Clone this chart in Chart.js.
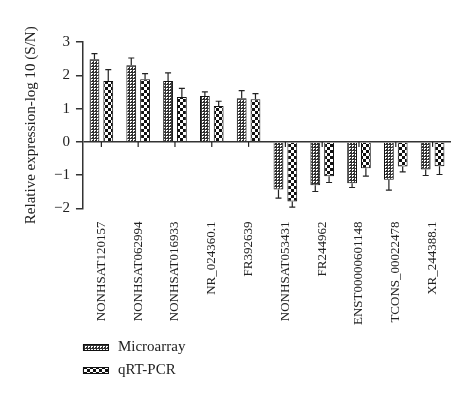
<!DOCTYPE html>
<html>
<head>
<meta charset="utf-8">
<script src="https://cdn.jsdelivr.net/npm/chart.js@4"></script>
<style>
  body { margin: 0; background: #fff; }
  canvas { display: block; }
</style>
</head>
<body>
<canvas id="chart" width="474" height="399"></canvas>
<script>
const labels = ['NONHSAT120157', 'NONHSAT062994', 'NONHSAT016933', 'NR_024360.1', 'FR392639',
  'NONHSAT053431', 'FR244962', 'ENST00000601148', 'TCONS_00022478', 'XR_244388.1'];
const microarray = [2.48, 2.30, 1.83, 1.38, 1.31, -1.43, -1.30, -1.24, -1.14, -0.83];
const microarrayErr = [0.17, 0.22, 0.24, 0.12, 0.23, 0.26, 0.19, 0.13, 0.31, 0.18];
const qpcr = [1.83, 1.88, 1.35, 1.08, 1.28, -1.79, -1.03, -0.79, -0.74, -0.73];
const qpcrErr = [0.34, 0.17, 0.26, 0.14, 0.17, 0.17, 0.19, 0.24, 0.16, 0.25];
const yTicks = [-2, -1, 0, 1, 2, 3];

const serif = '"Liberation Serif", "Times New Roman", serif';

// fine mesh for microarray
function meshPattern() {
  const c = document.createElement('canvas');
  c.width = 3; c.height = 3;
  const g = c.getContext('2d');
  g.fillStyle = '#fff';
  g.fillRect(0, 0, 3, 3);
  g.fillStyle = '#333';
  g.fillRect(0, 0, 3, 1);
  g.fillRect(0, 0, 1, 3);
  g.fillRect(2, 2, 1, 1);
  return g.createPattern(c, 'repeat');
}

// coarse checkerboard for qRT-PCR
function checkerPattern() {
  const c = document.createElement('canvas');
  c.width = 6; c.height = 6;
  const g = c.getContext('2d');
  g.fillStyle = '#fff';
  g.fillRect(0, 0, 6, 6);
  g.fillStyle = '#111';
  g.fillRect(0, 0, 3, 3);
  g.fillRect(3, 3, 3, 3);
  return g.createPattern(c, 'repeat');
}

const errors = [microarrayErr, qpcrErr];

const errorBars = {
  id: 'errorBars',
  afterDatasetsDraw(chart) {
    const { ctx, scales: { x, y } } = chart;
    ctx.save();
    ctx.strokeStyle = '#222';
    ctx.lineWidth = 1.2;
    chart.data.datasets.forEach((ds, i) => {
      const meta = chart.getDatasetMeta(i);
      meta.data.forEach((bar, j) => {
        const v = ds.data[j];
        const end = y.getPixelForValue(v + Math.sign(v) * errors[i][j]);
        ctx.beginPath();
        ctx.moveTo(bar.x, bar.y);
        ctx.lineTo(bar.x, end);
        ctx.moveTo(bar.x - 3, end);
        ctx.lineTo(bar.x + 3, end);
        ctx.stroke();
      });
    });
    // small tick marks under the zero line
    const y0 = y.getPixelForValue(0);
    x.ticks.forEach((t, k) => {
      const px = x.getPixelForTick(k);
      ctx.beginPath();
      ctx.moveTo(px, y0);
      ctx.lineTo(px, y0 + 5);
      ctx.stroke();
    });
    ctx.restore();
  }
};

const stackedLegend = {
  id: 'stackedLegend',
  afterDraw(chart) {
    const { ctx, chartArea } = chart;
    ctx.save();
    ctx.font = '15px ' + serif;
    ctx.textBaseline = 'middle';
    chart.data.datasets.forEach((ds, i) => {
      const top = chart.height - 55 + i * 23;
      ctx.fillStyle = ds.backgroundColor;
      ctx.fillRect(chartArea.left, top, 26, 7);
      ctx.strokeStyle = '#111';
      ctx.lineWidth = 1;
      ctx.strokeRect(chartArea.left + 0.5, top + 0.5, 25, 6);
      ctx.fillStyle = '#222';
      ctx.fillText(ds.label, chartArea.left + 35, top + 3);
    });
    ctx.restore();
  }
};

new Chart(document.getElementById('chart'), {
  type: 'bar',
  data: {
    labels: labels,
    datasets: [
      { label: 'Microarray', data: microarray, backgroundColor: meshPattern(),
        borderColor: '#111', borderWidth: 1 },
      { label: 'qRT-PCR', data: qpcr, backgroundColor: checkerPattern(),
        borderColor: '#111', borderWidth: 1 }
    ]
  },
  options: {
    responsive: false,
    animation: false,
    devicePixelRatio: 1,
    categoryPercentage: 0.75,
    barPercentage: 0.71,
    layout: { padding: { left: 18, right: 23, top: 42, bottom: 69 } },
    plugins: {
      legend: { display: false },
      tooltip: { enabled: false }
    },
    scales: {
      x: {
        grid: { display: false },
        border: { display: false },
        ticks: {
          minRotation: 90,
          maxRotation: 90,
          autoSkip: false,
          padding: 5,
          color: '#222',
          font: { family: serif, size: 13 }
        }
      },
      y: {
        min: -2,
        max: 3,
        afterBuildTicks(axis) {
          axis.ticks = yTicks.map(v => ({ value: v }));
        },
        border: { display: true, color: '#333', width: 1.5 },
        grid: {
          color: ctx => ctx.tick && ctx.tick.value === 0 ? '#333' : 'rgba(0,0,0,0)',
          lineWidth: 1.5,
          tickColor: '#333',
          tickLength: 7,
          drawTicks: true
        },
        ticks: {
          padding: 6,
          color: '#222',
          font: { family: serif, size: 15 },
          callback: v => v < 0 ? '\u2212' + Math.abs(v) : String(v)
        },
        title: {
          display: true,
          text: 'Relative expression-log 10 (S/N)',
          color: '#222',
          font: { family: serif, size: 15 },
          padding: { top: 4, bottom: 8 }
        }
      }
    }
  },
  plugins: [errorBars, stackedLegend]
});
</script>
</body>
</html>
